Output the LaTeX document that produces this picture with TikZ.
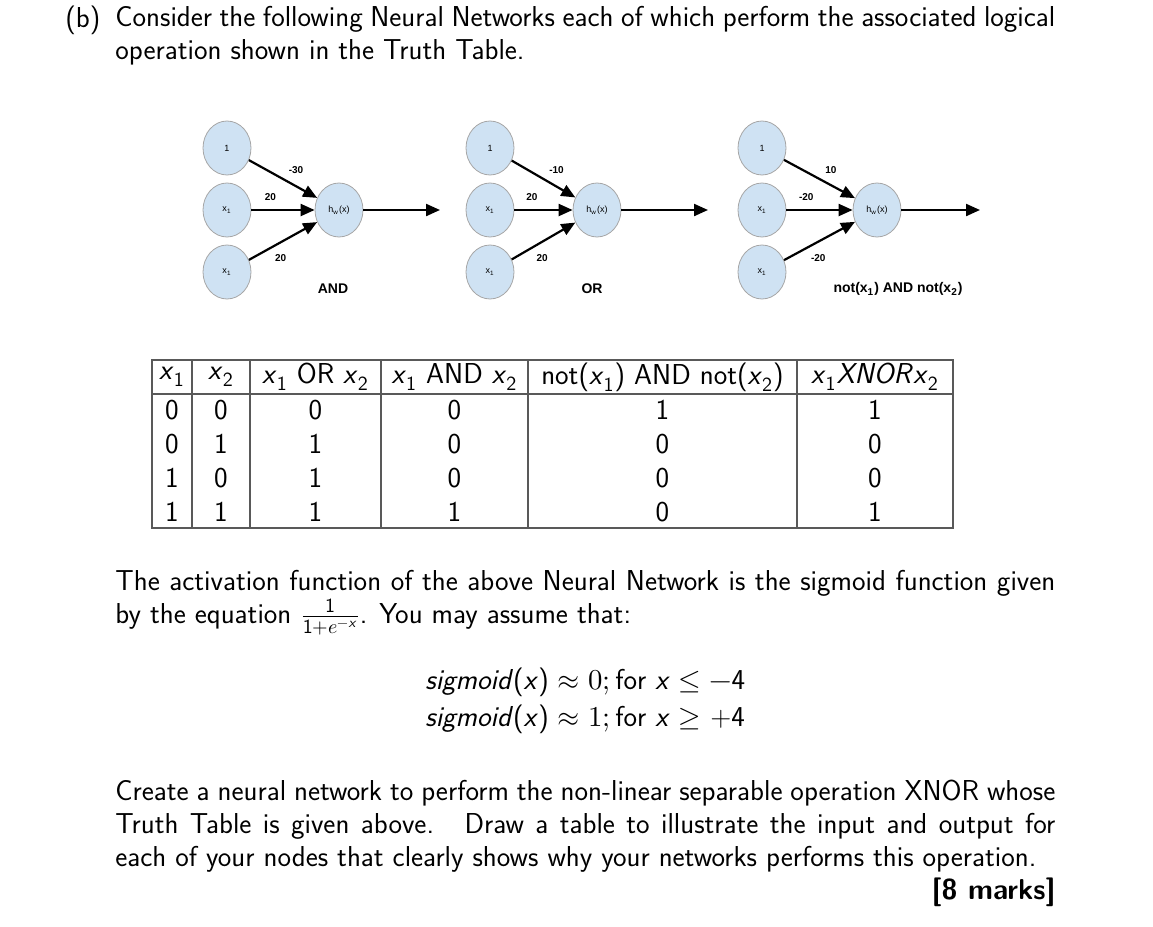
\documentclass[tikz,border=0pt]{standalone}
\usepackage{amsmath}
\usepackage{fontspec}
\usepackage{unicode-math}
\setmainfont{Latin Modern Sans}
\newfontfamily\arial{Liberation Sans}
\setmathfont{Latin Modern Math}
\usetikzlibrary{shapes.geometric,arrows.meta}
\newcommand{\xs}[1]{\textit{x}\textsubscript{#1}}
\begin{document}
\begin{tikzpicture}[x=0.5pt,y=-0.5pt,
  neuron/.style={ellipse,draw=gray!70,fill={rgb,255:red,207;green,226;blue,243},
    minimum width=24pt,minimum height=27pt,inner sep=0pt,font=\arial\fontsize{4.5}{5}\selectfont},
  wt/.style={font=\arial\bfseries\fontsize{5}{6}\selectfont},
  syn/.style={-{Triangle[length=7pt,width=6pt]},line width=1.1pt},
  netlabel/.style={font=\arial\bfseries\fontsize{7}{8}\selectfont},
  txt/.style={font=\fontsize{14.4}{16.5}\selectfont},
  cell/.style={font=\fontsize{14.4}{16.5}\selectfont,inner sep=0pt}]
\useasboundingbox (0,0) rectangle (1153,927);
% heading
\node[txt,anchor=north west,inner sep=0pt] (b) at (65,6) {(b)};
\node[txt,anchor=north west,inner sep=0pt,text width=470pt,align=justify] (intro) at (115,6)
  {Consider the following Neural Networks each of which perform the associated logical\linebreak operation shown in the Truth Table.};
% networks
\foreach \n/\xi/\xo/\xe/\wa/\wb/\wc/\lab/\lx in
  {1/227/339/440/-30/20/20/AND/333, 2/490/597/708/-10/20/20/OR/592,
   3/762/877/980/10/-20/-20/{not(x\textsubscript{1}) AND not(x\textsubscript{2})}/898}{
  \node[neuron] (b\n) at (\xi,148) {1};
  \node[neuron] (i\n) at (\xi,210) {x\textsubscript{1}};
  \node[neuron] (j\n) at (\xi,272) {x\textsubscript{1}};
  \node[neuron] (h\n) at (\xo,210) {h\textsubscript{w}(x)};
  \coordinate (o\n) at (\xe,210);
  \draw[syn] (b\n) -- node[wt,above right=-1pt] {\wa} (h\n);
  \draw[syn] (i\n) -- node[wt,above=1pt,pos=0.3] {\wb} (h\n);
  \draw[syn] (j\n) -- node[wt,below right=-1pt,pos=0.3] {\wc} (h\n);
  \draw[syn] (h\n) -- (o\n);
  \node[netlabel] (l\n) at (\lx,289) {\lab};
}
% truth table
\draw[line width=0.6pt,gray!70!black] (152,360) rectangle (953,528) (152,394) -- (953,394);
\foreach \x in {192,250,381,528,797}
  \draw[line width=0.6pt,gray!70!black] (\x,360) -- (\x,528);
\node[cell] (t1) at (172,377) {\xs{1}};
\node[cell] (t2) at (221,377) {\xs{2}};
\node[cell] (t3) at (315.5,377) {\xs{1} OR \xs{2}};
\node[cell] (t4) at (454.5,377) {\xs{1} AND \xs{2}};
\node[cell] (t5) at (662.5,377) {not(\xs{1}) AND not(\xs{2})};
\node[cell] (t6) at (875,377) {\xs{1}\textit{XNOR}\xs{2}};
\foreach \r/\y/\a/\b/\c/\d/\e/\f in
  {1/410/0/0/0/0/1/1, 2/444/0/1/1/0/0/0, 3/478/1/0/1/0/0/0, 4/512/1/1/1/1/0/1}{
  \node[cell] (r\r a) at (172,\y) {\a};
  \node[cell] (r\r b) at (221,\y) {\b};
  \node[cell] (r\r c) at (315.5,\y) {\c};
  \node[cell] (r\r d) at (454.5,\y) {\d};
  \node[cell] (r\r e) at (662.5,\y) {\e};
  \node[cell] (r\r f) at (875,\y) {\f};
}
% activation text
\node[txt,anchor=north west,inner sep=0pt,text width=470pt,align=justify] (act) at (115,570)
  {The activation function of the above Neural Network is the sigmoid function given\linebreak by the equation $\frac{\textsf{1}}{\textsf{1}+e^{-\textsf{\textit{x}}}}$. You may assume that:};
\node[txt,anchor=north west,inner sep=0pt,align=left] (sig) at (425,668)
  {\textit{sigmoid}(\textit{x}) $\approx 0; \mathrm{for}$ \textit{x} $\le -$4\\[2pt]
   \textit{sigmoid}(\textit{x}) $\approx 1; \mathrm{for}$ \textit{x} $\ge$ +4};
\node[txt,anchor=north west,inner sep=0pt,text width=470pt,align=justify] (task) at (115,780)
  {Create a neural network to perform the non-linear separable operation XNOR whose\linebreak Truth Table is given above. \ Draw a table to illustrate the input and output for\linebreak each of your nodes that clearly shows why your networks performs this operation.\par
  \hfill\textbf{[8 marks]}};
\end{tikzpicture}
\end{document}
